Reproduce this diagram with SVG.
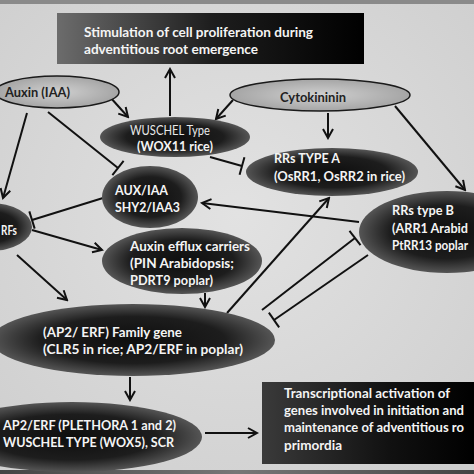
<svg xmlns="http://www.w3.org/2000/svg" width="474" height="474" viewBox="0 0 474 474">
<defs>
<radialGradient id="bg" cx="50%" cy="45%" r="70%"><stop offset="0" stop-color="#e2e2e2"/><stop offset="1" stop-color="#cfcfcf"/></radialGradient>
<linearGradient id="boxTop" x1="0" y1="0" x2="1" y2="0"><stop offset="0" stop-color="#6c6c6c"/><stop offset="0.5" stop-color="#1e1e1e"/><stop offset="1" stop-color="#000"/></linearGradient>
<linearGradient id="boxBot" x1="0" y1="0" x2="1" y2="0"><stop offset="0" stop-color="#3a3a3a"/><stop offset="0.6" stop-color="#111"/><stop offset="1" stop-color="#000"/></linearGradient>
<radialGradient id="dark" cx="50%" cy="50%" r="50%"><stop offset="0" stop-color="#0e0e0e"/><stop offset="0.65" stop-color="#1d1d1d"/><stop offset="1" stop-color="#555"/></radialGradient>
<radialGradient id="light" cx="50%" cy="50%" r="50%"><stop offset="0" stop-color="#d0d0d0"/><stop offset="1" stop-color="#a5a5a5"/></radialGradient>
<linearGradient id="band" x1="0" y1="0" x2="1" y2="0"><stop offset="0" stop-color="#444"/><stop offset="0.5" stop-color="#777"/><stop offset="1" stop-color="#444"/></linearGradient>
<marker id="arr" markerUnits="userSpaceOnUse" markerWidth="12" markerHeight="12" viewBox="0 0 12 12" refX="10" refY="6" orient="auto"><path d="M1,1 L10,6 L1,11" fill="none" stroke="#111" stroke-width="2"/></marker>
<marker id="bar" markerUnits="userSpaceOnUse" markerWidth="4" markerHeight="20" viewBox="0 0 4 20" refX="2" refY="10" orient="auto"><path d="M2,1 L2,19" stroke="#111" stroke-width="2"/></marker>
<style>
.dk{fill:url(#dark)}
.lt{fill:url(#light);stroke:#1a1a1a;stroke-width:1.5}
.t{font-family:Lato,"Open Sans","Liberation Sans",sans-serif;font-size:14px;font-weight:bold;fill:#f4f4f4}
.tr{font-family:Lato,"Open Sans","Liberation Sans",sans-serif;font-size:14px;font-weight:normal;fill:#e8e8e8}
.td{font-family:Lato,"Open Sans","Liberation Sans",sans-serif;font-size:14px;font-weight:bold;fill:#222}
.c{fill:none;stroke:#111;stroke-width:2}
.a{marker-end:url(#arr)}
.b{marker-end:url(#bar)}
</style>
</defs>
<rect x="0" y="0" width="474" height="474" fill="url(#bg)"/>
<rect x="0" y="0" width="474" height="4" fill="#8a8a8a"/>
<rect x="0" y="470" width="474" height="4" fill="url(#band)"/>

<g id="box-top">
<rect x="57" y="13" width="307" height="51" fill="url(#boxTop)"/>
<text class="t" x="84" y="37" textLength="229" lengthAdjust="spacingAndGlyphs">Stimulation of cell proliferation during</text>
<text class="t" x="84" y="54" textLength="174" lengthAdjust="spacingAndGlyphs">adventitious root emergence</text>
</g>

<g id="box-bottom">
<rect x="262" y="382" width="212" height="82" fill="url(#boxBot)"/>
<text class="t" x="284" y="398" textLength="166" lengthAdjust="spacingAndGlyphs">Transcriptional activation of</text>
<text class="t" x="284" y="415" textLength="180" lengthAdjust="spacingAndGlyphs">genes involved in  initiation and</text>
<text class="t" x="284" y="432" textLength="180" lengthAdjust="spacingAndGlyphs">maintenance of adventitious ro</text>
<text class="t" x="284" y="450" textLength="58" lengthAdjust="spacingAndGlyphs">primordia</text>
</g>

<g id="connectors">
<line class="c a" x1="110" y1="97" x2="128" y2="117"/>
<line class="c a" x1="170" y1="116" x2="170" y2="69"/>
<line class="c a" x1="233" y1="100" x2="216" y2="119"/>
<line class="c a" x1="328" y1="113" x2="328" y2="138"/>
<line class="c a" x1="395" y1="106" x2="465" y2="190"/>
<line class="c b" x1="210" y1="157" x2="242" y2="166"/>
<line class="c b" x1="48" y1="112" x2="118" y2="168"/>
<line class="c a" x1="27" y1="113" x2="3" y2="198"/>
<line class="c b" x1="103" y1="198" x2="32" y2="220"/>
<line class="c a" x1="32" y1="230" x2="102" y2="250"/>
<line class="c a" x1="17" y1="255" x2="67" y2="300"/>
<line class="c a" x1="205" y1="293" x2="205" y2="307"/>
<line class="c a" x1="227" y1="313" x2="329" y2="198"/>
<line class="c a" x1="359" y1="222" x2="202" y2="203"/>
<line class="c b" x1="262" y1="310" x2="355" y2="238"/>
<line class="c b" x1="368" y1="255" x2="274" y2="320"/>
<line class="c a" x1="130" y1="377" x2="130" y2="400"/>
<line class="c a" x1="205" y1="433" x2="257" y2="433"/>
</g>

<g id="auxin">
<ellipse class="lt" cx="57" cy="92" rx="62" ry="16"/>
<text class="td" x="5" y="97" textLength="65" lengthAdjust="spacingAndGlyphs">Auxin (IAA)</text>
</g>

<g id="cytokininin">
<ellipse class="lt" cx="320" cy="95" rx="90" ry="16"/>
<text class="td" x="280" y="102" textLength="66" lengthAdjust="spacingAndGlyphs">Cytokininin</text>
</g>

<g id="wuschel">
<ellipse class="dk" cx="175" cy="137" rx="75" ry="20"/>
<text class="tr" x="130" y="135" textLength="80" lengthAdjust="spacingAndGlyphs">WUSCHEL Type</text>
<text class="t" x="137" y="151" textLength="76" lengthAdjust="spacingAndGlyphs">(WOX11 rice)</text>
</g>

<g id="rrs-type-a">
<ellipse class="dk" cx="332" cy="172" rx="86" ry="24"/>
<text class="t" x="274" y="163" textLength="66" lengthAdjust="spacingAndGlyphs">RRs TYPE A</text>
<text class="t" x="274" y="181" textLength="131" lengthAdjust="spacingAndGlyphs">(OsRR1, OsRR2 in rice)</text>
</g>

<g id="aux-iaa">
<ellipse class="dk" cx="150" cy="197" rx="48" ry="31"/>
<text class="t" x="115" y="195" textLength="53" lengthAdjust="spacingAndGlyphs">AUX/IAA</text>
<text class="t" x="115" y="212" textLength="65" lengthAdjust="spacingAndGlyphs">SHY2/IAA3</text>
</g>

<g id="arfs">
<ellipse class="dk" cx="-10" cy="227" rx="42" ry="24"/>
<text class="t" x="1" y="235" textLength="16" lengthAdjust="spacingAndGlyphs">RFs</text>
</g>

<g id="efflux">
<ellipse class="dk" cx="182" cy="261" rx="80" ry="33"/>
<text class="t" x="130" y="251" textLength="120" lengthAdjust="spacingAndGlyphs">Auxin efflux carriers</text>
<text class="t" x="130" y="268" textLength="104" lengthAdjust="spacingAndGlyphs">(PIN Arabidopsis;</text>
<text class="t" x="130" y="285" textLength="83" lengthAdjust="spacingAndGlyphs">PDRT9 poplar)</text>
</g>

<g id="rrs-type-b">
<ellipse class="dk" cx="447" cy="232" rx="88" ry="41"/>
<text class="t" x="392" y="215" textLength="62" lengthAdjust="spacingAndGlyphs">RRs type B</text>
<text class="t" x="392" y="233" textLength="76" lengthAdjust="spacingAndGlyphs">(ARR1  Arabid</text>
<text class="t" x="392" y="250" textLength="76" lengthAdjust="spacingAndGlyphs">PtRR13 poplar</text>
</g>

<g id="ap2-erf-family">
<ellipse class="dk" cx="133" cy="340" rx="142" ry="36"/>
<text class="t" x="43" y="337" textLength="139" lengthAdjust="spacingAndGlyphs">(AP2/ ERF) Family gene</text>
<text class="t" x="43" y="354" textLength="200" lengthAdjust="spacingAndGlyphs">(CLR5 in rice;  AP2/ERF in poplar)</text>
</g>

<g id="plethora">
<ellipse class="dk" cx="72" cy="437" rx="130" ry="35"/>
<text class="t" x="3" y="430" textLength="173" lengthAdjust="spacingAndGlyphs">AP2/ERF (PLETHORA 1 and 2)</text>
<text class="t" x="3" y="447" textLength="171" lengthAdjust="spacingAndGlyphs">WUSCHEL TYPE (WOX5), SCR</text>
</g>
</svg>
